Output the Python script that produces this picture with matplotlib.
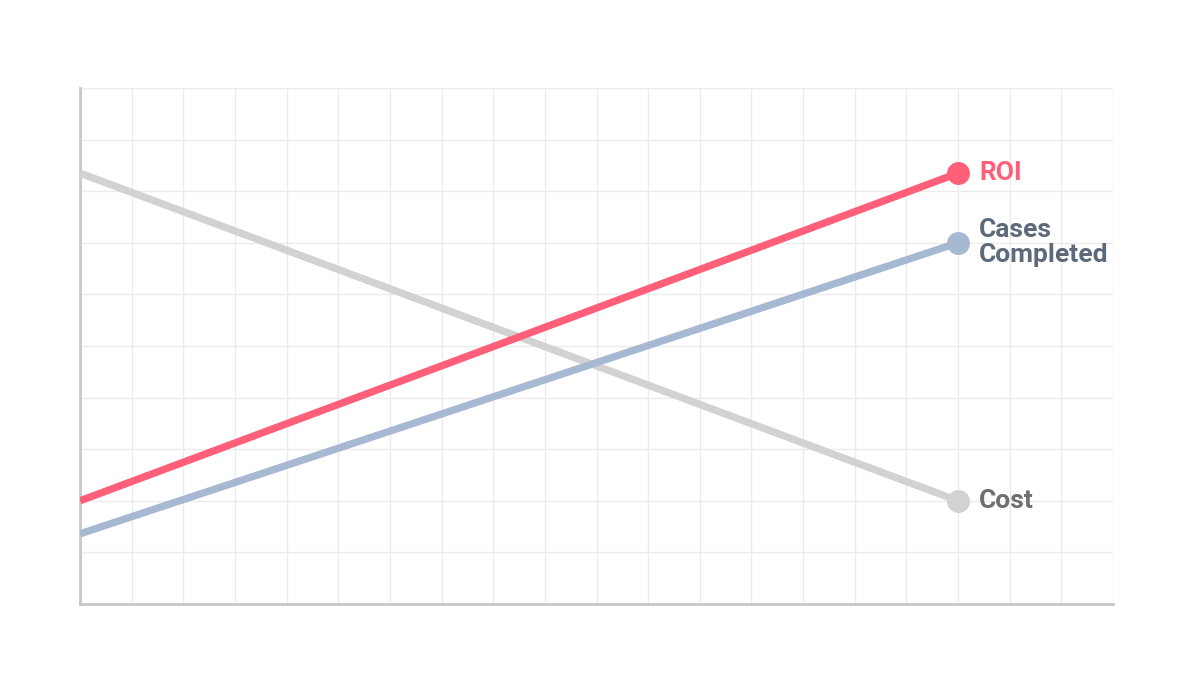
import matplotlib
matplotlib.use("Agg")
import matplotlib.pyplot as plt
import numpy as np

# Data
x_pos = [0, 17]
series_names = ["Cost", "Cases\nCompleted", "ROI"]
roi = [2.0, 8.35]
cases = [1.36, 7.0]
cost = [8.35, 2.0]

line_colors = {"ROI": "#ff5f78", "Cases\nCompleted": "#a7b9d2", "Cost": "#d2d2d2"}
text_colors = {"ROI": "#ff5f78", "Cases\nCompleted": "#5d6a79", "Cost": "#6c6f74"}
values = {"ROI": roi, "Cases\nCompleted": cases, "Cost": cost}

fig = plt.figure(figsize=(12, 6.75), dpi=100)
ax = fig.add_axes([80/1200, 1-604/675, (1113-80)/1200, (604-88)/675])

ax.set_xlim(0, 20)
ax.set_ylim(0, 10)
ax.set_xticks(np.arange(0, 21, 1))
ax.set_yticks(np.arange(0, 11, 1))
ax.tick_params(length=0, labelleft=False, labelbottom=False)
ax.grid(True, color="#ebebeb", linewidth=1.0)
ax.set_axisbelow(True)
for s in ["top", "right"]:
    ax.spines[s].set_visible(False)
for s in ["left", "bottom"]:
    ax.spines[s].set_color("#c8c8c8")
    ax.spines[s].set_linewidth(2.0)

for name in series_names:
    v = values[name]
    ax.plot(x_pos, v, color=line_colors[name], linewidth=5.3, solid_capstyle="butt", zorder=3)
    ax.plot([x_pos[-1]], [v[-1]], "o", color=line_colors[name], markersize=15.5, zorder=4)
    ax.annotate(name, xy=(x_pos[-1], v[-1]), xytext=(15, 0), textcoords="offset points",
                ha="left", va="center", color=text_colors[name], fontsize=19,
                fontweight="bold", family=["Roboto", "DejaVu Sans"], linespacing=1.05,
                annotation_clip=False)

fig.savefig("out.png", dpi=100)
